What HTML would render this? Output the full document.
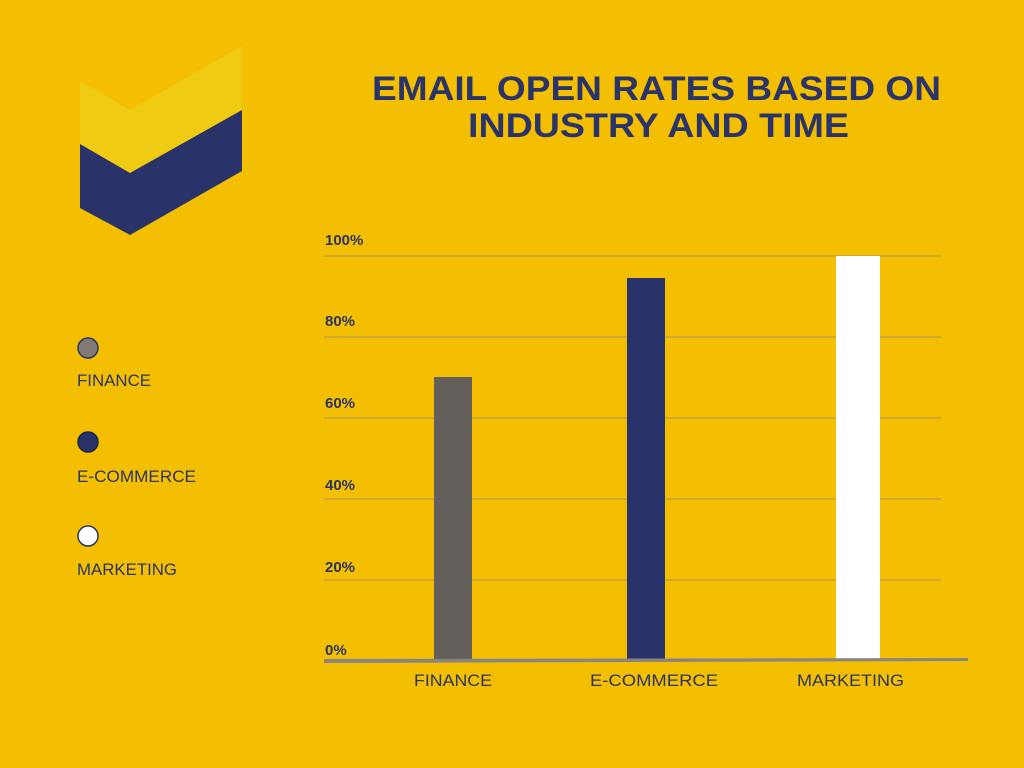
<!DOCTYPE html>
<html><head><style>
body{margin:0;background:#f4bf00;}
svg{display:block}
text{font-family:"Liberation Sans",sans-serif;}
</style></head><body>
<svg width="1024" height="768" viewBox="0 0 1024 768">
<rect width="1024" height="768" fill="#f4bf00"/>
<polygon points="80,81 130,110 242,46 242,110 130,173 80,144" fill="#efcb14"/>
<polygon points="80,144 130,173 242,110 242,171 130,235 80,208" fill="#29336a"/>
<text x="372" y="100" textLength="569" lengthAdjust="spacingAndGlyphs" font-size="34" font-weight="bold" fill="#2b3468">EMAIL OPEN RATES BASED ON</text>
<text x="468" y="137" textLength="381" lengthAdjust="spacingAndGlyphs" font-size="34" font-weight="bold" fill="#2b3468">INDUSTRY AND TIME</text>
<g stroke="#a8955e" stroke-width="1">
<line x1="324" y1="256" x2="941" y2="256"/><line x1="324" y1="337" x2="941" y2="337"/>
<line x1="324" y1="418" x2="941" y2="418"/><line x1="324" y1="499" x2="941" y2="499"/>
<line x1="324" y1="580" x2="941" y2="580"/>
</g>
<g font-size="15" font-weight="bold" fill="#2b3468">
<text x="325" y="245">100%</text><text x="325" y="326">80%</text><text x="325" y="408">60%</text>
<text x="325" y="490">40%</text><text x="325" y="572">20%</text><text x="325" y="655">0%</text>
</g>
<rect x="434" y="377" width="38" height="284" fill="#655f5c"/>
<rect x="627" y="278" width="38" height="381" fill="#29336a"/>
<rect x="836" y="256" width="44" height="403" fill="#ffffff"/>
<polygon points="324,659 968,658 968,661 324,663" fill="#8a8580"/>
<g font-size="17" fill="#2b3468">
<text x="414" y="686" textLength="78" lengthAdjust="spacingAndGlyphs">FINANCE</text>
<text x="590" y="686" textLength="128" lengthAdjust="spacingAndGlyphs">E-COMMERCE</text>
<text x="797" y="686" textLength="107" lengthAdjust="spacingAndGlyphs">MARKETING</text>
</g>
<circle cx="88" cy="348" r="10" fill="#807a75" stroke="#2b3468" stroke-width="1.5"/>
<circle cx="88" cy="442" r="10" fill="#29336a" stroke="#1e2550" stroke-width="1.5"/>
<circle cx="88" cy="536" r="10" fill="#fff" stroke="#2b3468" stroke-width="1.5"/>
<g font-size="17" fill="#2b3468">
<text x="77" y="386" textLength="74" lengthAdjust="spacingAndGlyphs">FINANCE</text>
<text x="77" y="482" textLength="119" lengthAdjust="spacingAndGlyphs">E-COMMERCE</text>
<text x="77" y="575" textLength="100" lengthAdjust="spacingAndGlyphs">MARKETING</text>
</g>
</svg>
</body></html>
